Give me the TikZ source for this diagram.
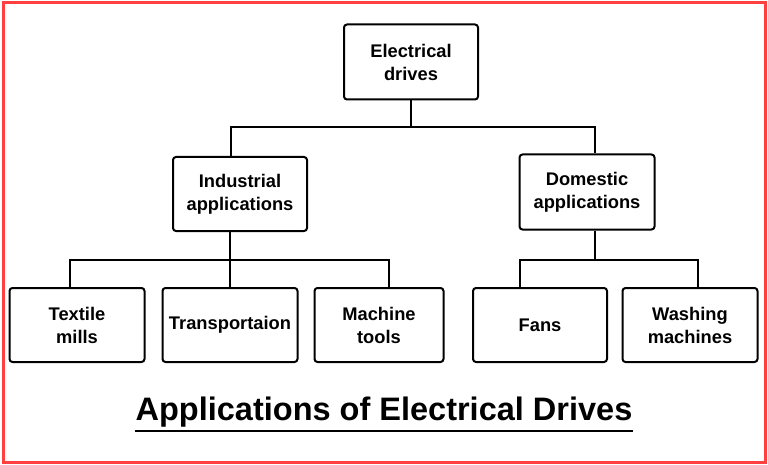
\documentclass[tikz,border=0pt]{standalone}
\usepackage{fontspec}
\setmainfont{Liberation Sans}
\begin{document}
\begin{tikzpicture}[x=1pt,y=-1pt,
  box/.style={draw,line width=2pt,rounded corners=3pt,align=center,font=\bfseries\fontsize{18.3}{23}\selectfont,inner sep=0pt},
  wire/.style={line width=2pt}]
\useasboundingbox (0,0) rectangle (768,465);
\draw[red!75!white,line width=3pt] (3,3) rectangle (765,462);
\node[box,minimum width=134pt,minimum height=75pt] (ed) at (411,62) {Electrical\\drives};
\node[box,minimum width=134pt,minimum height=74pt] (ia) at (240,194) {Industrial\\applications};
\node[box,minimum width=135pt,minimum height=75pt] (da) at (587,192) {Domestic\\applications};
\node[box,minimum width=135pt,minimum height=74pt] (tm) at (77,325) {Textile\\mills};
\node[box,minimum width=135pt,minimum height=74pt] (tr) at (230,325) {Transportaion};
\node[box,minimum width=129pt,minimum height=74pt] (mt) at (379,325) {Machine\\tools};
\node[box,minimum width=134pt,minimum height=74pt] (fa) at (540,325) {Fans};
\node[box,minimum width=135pt,minimum height=74pt] (wm) at (690,325) {Washing\\machines};
\coordinate (j1) at (411,127);
\coordinate (j2) at (230,260);
\coordinate (j3) at (595,260);
\draw[wire] (ed.south) -- (j1);
\draw[wire] (ia.north -| 231,0) |- (j1) -| (da.north -| 595,0);
\draw[wire] (ia.south -| j2) -- (j2);
\draw[wire] (tm.north -| 70,0) |- (j2) -| (mt.north -| 389,0);
\draw[wire] (tr.north -| j2) -- (j2);
\draw[wire] (da.south -| j3) -- (j3);
\draw[wire] (fa.north -| 520,0) |- (j3) -| (wm.north -| 698,0);
\node[font=\bfseries\fontsize{32.5}{36}\selectfont,inner sep=0pt] (title) at (384,412) {Applications of Electrical Drives};
\draw[line width=2.2pt] ([yshift=-4pt]title.south west) -- ([yshift=-4pt]title.south east);
\end{tikzpicture}
\end{document}
